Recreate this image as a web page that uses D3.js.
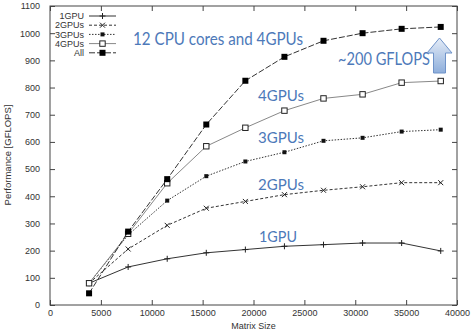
<!DOCTYPE html>
<html>
<head>
<meta charset="utf-8">
<script src="https://cdn.jsdelivr.net/npm/d3@7/dist/d3.min.js"></script>
<style>
  html, body { margin: 0; padding: 0; background: #fff; }
  svg { display: block; }
</style>
</head>
<body>
<svg id="chart" width="474" height="333"></svg>
<script>
// Matrix sizes (x) and sustained performance in GFLOPS per configuration
const matrixSizes = [3840, 7680, 11520, 15360, 19200, 23040, 26880, 30720, 34560, 38400];
const gpu1  = [80, 140, 170, 192, 204, 216, 222, 228, 228, 199];
const gpu2  = [80, 206, 293, 356, 381, 406, 422, 435, 450, 450];
const gpu3  = [80, 258, 384, 474, 528, 562, 604, 615, 638, 645];
const gpu4  = [80, 262, 448, 584, 652, 715, 760, 775, 818, 824];
const allCfg = [43, 270, 463, 664, 825, 913, 972, 1000, 1016, 1023];

const xTicks = [0, 5000, 10000, 15000, 20000, 25000, 30000, 35000, 40000];
const yTicks = [0, 100, 200, 300, 400, 500, 600, 700, 800, 900, 1000, 1100];
const seriesNames = ["1GPU", "2GPUs", "3GPUs", "4GPUs", "All"];

(function () {
const svg = d3.select("#chart");
const plotL = 50, plotR = 457, plotT = 6, plotB = 305;

const x = d3.scaleLinear().domain([0, 40000]).range([plotL, plotR]);
const y = d3.scaleLinear().domain([0, 1100]).range([plotB, plotT]);

const axisColor = "#444";
const textColor = "#333";
const tickFont = "'Liberation Sans', Arial, sans-serif";

// Frame with inward ticks on all four sides
function styleAxis(g) {
  g.select(".domain").remove();
  g.selectAll(".tick line").attr("stroke", axisColor).attr("stroke-width", 1);
  g.selectAll(".tick text").attr("fill", textColor)
    .style("font-family", tickFont).style("font-size", "9px");
}

svg.append("g").attr("transform", `translate(0,${plotB})`)
  .call(d3.axisBottom(x).tickValues(xTicks).tickFormat(d3.format("d")).tickSizeInner(-5).tickSizeOuter(0).tickPadding(5))
  .call(styleAxis);
svg.append("g").attr("transform", `translate(0,${plotT})`)
  .call(d3.axisTop(x).tickValues(xTicks).tickFormat("").tickSizeInner(-5).tickSizeOuter(0))
  .call(styleAxis);
svg.append("g").attr("transform", `translate(${plotL},0)`)
  .call(d3.axisLeft(y).tickValues(yTicks).tickFormat(d3.format("d")).tickSizeInner(-5).tickSizeOuter(0).tickPadding(10))
  .call(styleAxis);
svg.append("g").attr("transform", `translate(${plotR},0)`)
  .call(d3.axisRight(y).tickValues(yTicks).tickFormat("").tickSizeInner(-5).tickSizeOuter(0))
  .call(styleAxis);

svg.append("rect")
  .attr("x", plotL).attr("y", plotT)
  .attr("width", plotR - plotL).attr("height", plotB - plotT)
  .attr("fill", "none").attr("stroke", axisColor).attr("stroke-width", 1);

// Axis titles
svg.append("text")
  .attr("x", x(20000)).attr("y", 329)
  .attr("text-anchor", "middle")
  .attr("fill", textColor)
  .style("font-family", tickFont).style("font-size", "9px")
  .text("Matrix Size");

svg.append("text")
  .attr("transform", "translate(11,155) rotate(-90)")
  .attr("text-anchor", "middle")
  .attr("fill", textColor)
  .style("font-family", tickFont).style("font-size", "9.5px")
  .text("Performance [GFLOPS]");

// Series styling
const styles = [
  { name: seriesNames[0], values: gpu1,  stroke: "#333", dash: null,      marker: "plus" },
  { name: seriesNames[1], values: gpu2,  stroke: "#333", dash: "3,2",     marker: "cross" },
  { name: seriesNames[2], values: gpu3,  stroke: "#333", dash: "1.5,1.5", marker: "smallsq" },
  { name: seriesNames[3], values: gpu4,  stroke: "#888", dash: null,      marker: "opensq" },
  { name: seriesNames[4], values: allCfg, stroke: "#333", dash: "6,2",    marker: "filledsq" }
];

const line = d3.line().x(d => x(d[0])).y(d => y(d[1]));

function drawMarker(g, kind, cx, cy) {
  if (kind === "plus") {
    g.append("path").attr("d", `M${cx-3},${cy}H${cx+3}M${cx},${cy-3}V${cy+3}`)
      .attr("stroke", "#222").attr("stroke-width", 1).attr("fill", "none");
  } else if (kind === "cross") {
    g.append("path").attr("d", `M${cx-2.5},${cy-2.5}L${cx+2.5},${cy+2.5}M${cx-2.5},${cy+2.5}L${cx+2.5},${cy-2.5}`)
      .attr("stroke", "#222").attr("stroke-width", 1).attr("fill", "none");
  } else if (kind === "smallsq") {
    g.append("rect").attr("x", cx-2).attr("y", cy-2).attr("width", 4).attr("height", 4)
      .attr("fill", "#111");
  } else if (kind === "opensq") {
    g.append("rect").attr("x", cx-2.7).attr("y", cy-2.7).attr("width", 5.4).attr("height", 5.4)
      .attr("fill", "#fff").attr("stroke", "#222").attr("stroke-width", 1);
  } else if (kind === "filledsq") {
    g.append("rect").attr("x", cx-3).attr("y", cy-3).attr("width", 6).attr("height", 6)
      .attr("fill", "#000");
  }
}

styles.forEach(s => {
  const pts = matrixSizes.map((m, i) => [m, s.values[i]]);
  const g = svg.append("g");
  g.append("path")
    .attr("d", line(pts))
    .attr("fill", "none")
    .attr("stroke", s.stroke)
    .attr("stroke-width", 1)
    .attr("stroke-dasharray", s.dash);
  pts.forEach(p => drawMarker(g, s.marker, x(p[0]), y(p[1])));
});

// Legend
const legend = svg.append("g");
styles.forEach((s, i) => {
  const ly = 16 + i * 9.2;
  legend.append("text")
    .attr("x", 84).attr("y", ly + 3.2)
    .attr("text-anchor", "end")
    .attr("fill", textColor)
    .style("font-family", tickFont).style("font-size", "9px")
    .text(s.name);
  legend.append("line")
    .attr("x1", 89).attr("x2", 116).attr("y1", ly).attr("y2", ly)
    .attr("stroke", s.stroke).attr("stroke-width", 1)
    .attr("stroke-dasharray", s.dash);
  drawMarker(legend, s.marker, 102.5, ly);
});

// Annotations
const blue = "#4d79b9";
const noteFont = "Lato, 'Open Sans', sans-serif";
const notes = [
  { text: "12 CPU cores and 4GPUs", x: 133, y: 45, size: 16.5, w: 170 },
  { text: "~200 GFLOPS", x: 338, y: 65, size: 16.5, w: 92 },
  { text: "4GPUs", x: 258, y: 101, size: 14.5, w: 46 },
  { text: "3GPUs", x: 258, y: 143, size: 14.5, w: 46 },
  { text: "2GPUs", x: 258, y: 190, size: 14.5, w: 46 },
  { text: "1GPU", x: 259, y: 242, size: 14.5, w: 38 }
];
notes.forEach(n => {
  svg.append("text")
    .attr("x", n.x).attr("y", n.y)
    .attr("fill", blue)
    .attr("textLength", n.w)
    .attr("lengthAdjust", "spacingAndGlyphs")
    .style("font-family", noteFont).style("font-size", n.size + "px")
    .text(n.text);
});

// Block arrow marking the gain over GPUs alone
const defs = svg.append("defs");
const grad = defs.append("linearGradient").attr("id", "arrowFill")
  .attr("x1", 0).attr("y1", 0).attr("x2", 0).attr("y2", 1);
grad.append("stop").attr("offset", "0%").attr("stop-color", "#e4ecf7");
grad.append("stop").attr("offset", "100%").attr("stop-color", "#8eaedb");

svg.append("path")
  .attr("d", "M439.5,38 L452,53 L445.5,53 L445.5,73 L433.5,73 L433.5,53 L427,53 Z")
  .attr("fill", "url(#arrowFill)")
  .attr("stroke", "#6f93c9")
  .attr("stroke-width", 1);
})();
</script>
</body>
</html>
